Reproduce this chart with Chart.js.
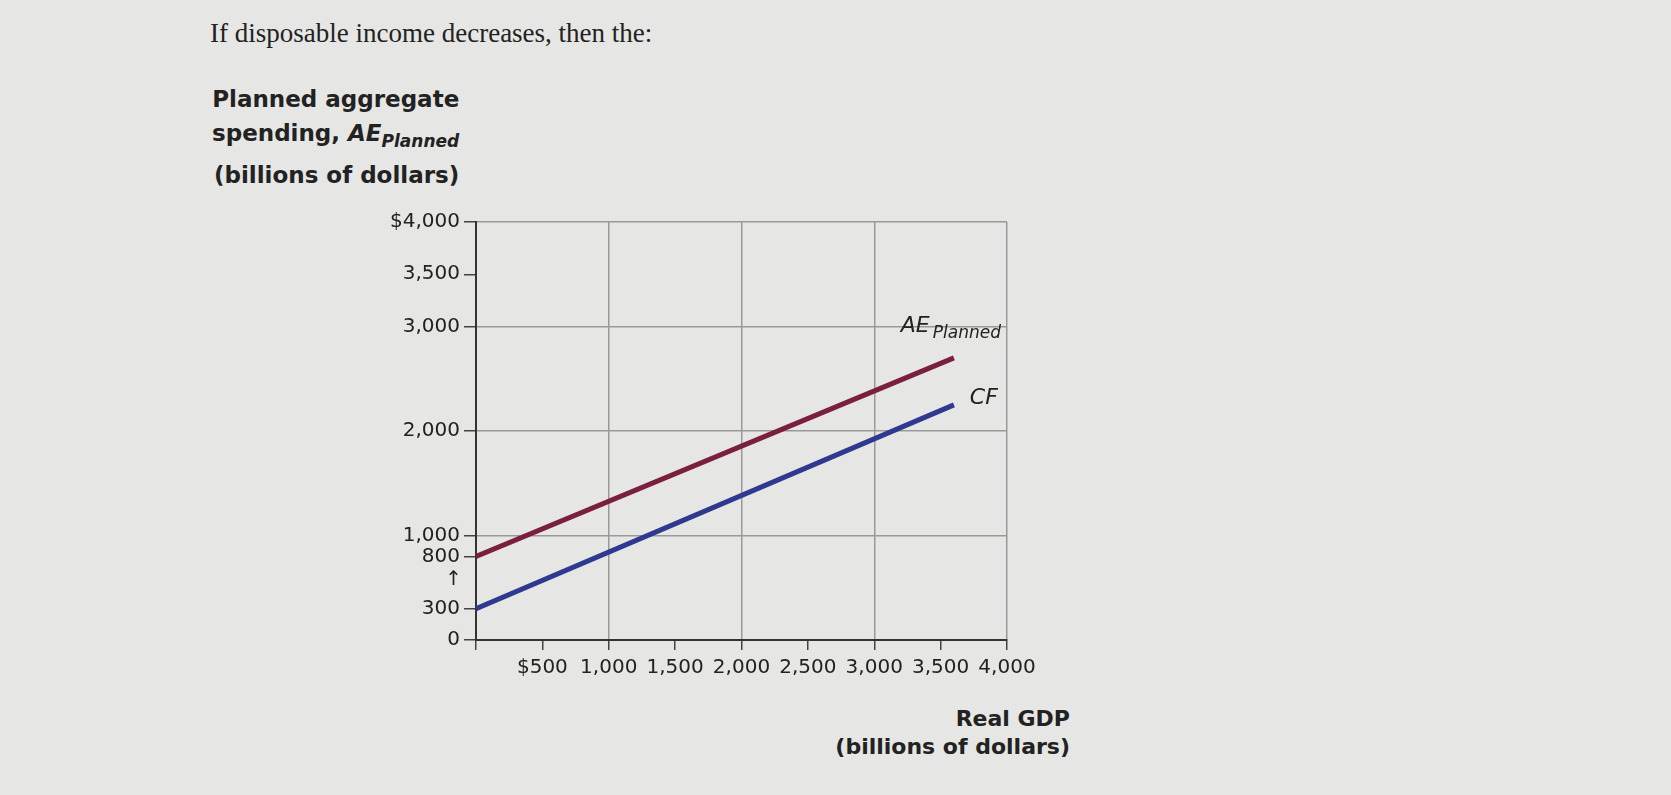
<!DOCTYPE html>
<html><head><meta charset="utf-8">
<script src="https://cdn.jsdelivr.net/npm/chart.js@4"></script>
<style>
html,body{margin:0;padding:0;background:#e6e6e4;width:1671px;height:795px;overflow:hidden;font-family:"DejaVu Sans",sans-serif;color:#222}
#wrap{position:absolute;left:0;top:0;width:1671px;height:795px}
.t{position:absolute;white-space:nowrap}
</style></head><body>
<div class="t" style="left:210px;top:18px;font-family:'Liberation Serif',serif;font-size:27px;">If disposable income decreases, then the:</div>
<div class="t" style="left:212px;top:82px;font-weight:bold;font-size:23px;line-height:34px;text-align:right;">Planned aggregate<br>spending, <i>AE<sub style="font-size:17px">Planned</sub></i><br>(billions of dollars)</div>
<div class="t" style="left:820px;top:705px;font-weight:bold;font-size:22px;line-height:28px;text-align:right;width:250px;">Real GDP<br>(billions of dollars)</div>
<div id="wrap"><canvas id="c" width="1671" height="795"></canvas></div>
<script>
const gdp = [0, 3600];
const aePlanned = [800, 2700];
const cf = [300, 2250];
const yTicks = [0, 300, 800, 1000, 2000, 3000, 3500, 4000];
const yTickLabels = {0:"0",300:"300",800:"800",1000:"1,000",2000:"2,000",3000:"3,000",3500:"3,500",4000:"$4,000"};
const xTicks = [0, 500, 1000, 1500, 2000, 2500, 3000, 3500, 4000];
const xTickLabels = {0:"",500:"$500",1000:"1,000",1500:"1,500",2000:"2,000",2500:"2,500",3000:"3,000",3500:"3,500",4000:"4,000"};

const labelPlugin = {
  id:'lbl',
  afterDatasetsDraw(chart){
    const {ctx, scales:{x,y}} = chart;
    ctx.save();
    ctx.fillStyle='#222';
    ctx.font='italic 22px "DejaVu Sans"';
    ctx.textBaseline='alphabetic';
    ctx.fillText('AE', x.getPixelForValue(3200), y.getPixelForValue(2950));
    ctx.font='italic 17px "DejaVu Sans"';
    ctx.fillText('Planned', x.getPixelForValue(3200)+32, y.getPixelForValue(2950)+6);
    ctx.font='italic 22px "DejaVu Sans"';
    ctx.fillText('CF', x.getPixelForValue(3720), y.getPixelForValue(2260));
    ctx.font='20px "DejaVu Sans"';
    ctx.textAlign='right';
    ctx.fillText('↑', x.left-14, y.getPixelForValue(530));
    ctx.restore();
  }
};

new Chart(document.getElementById('c'), {
  type:'scatter',
  data:{datasets:[
    {data:gdp.map((v,i)=>({x:v,y:aePlanned[i]})), showLine:true, borderColor:'#7a1f3d', borderWidth:5, pointRadius:0},
    {data:gdp.map((v,i)=>({x:v,y:cf[i]})), showLine:true, borderColor:'#2e3a8f', borderWidth:5, pointRadius:0}
  ]},
  options:{
    responsive:false, animation:false,
    layout:{padding:{left:386,top:222,right:664,bottom:115}},
    plugins:{legend:{display:false},tooltip:{enabled:false}},
    scales:{
      x:{type:'linear',min:0,max:4000,
        afterBuildTicks(s){s.ticks=xTicks.map(v=>({value:v}));},
        afterFit(s){s.height=40;},
        border:{color:'#333',width:2},
        grid:{color:c=>c.tick&&c.tick.value%1000===0&&c.tick.value>0?'#999':'rgba(0,0,0,0)',tickColor:'#444',tickLength:10,lineWidth:1.5},
        ticks:{font:{family:'DejaVu Sans',size:20},color:'#222',maxRotation:0,autoSkip:false,padding:6,callback:v=>xTickLabels[v]}},
      y:{type:'linear',min:0,max:4000,
        afterBuildTicks(s){s.ticks=yTicks.map(v=>({value:v}));},
        afterFit(s){s.width=90;},
        border:{color:'#333',width:2},
        grid:{color:c=>c.tick&&c.tick.value%1000===0&&c.tick.value>0?'#999':'rgba(0,0,0,0)',tickColor:'#444',tickLength:12,lineWidth:1.5},
        ticks:{font:{family:'DejaVu Sans',size:20},color:'#222',autoSkip:false,padding:4,callback:v=>yTickLabels[v]}}
    }
  },
  plugins:[labelPlugin]
});
</script></body></html>
